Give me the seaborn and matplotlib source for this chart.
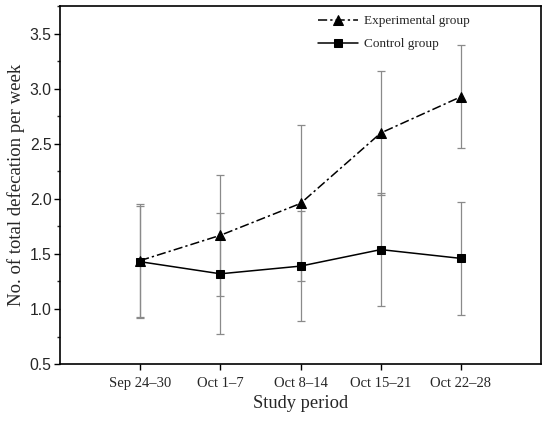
import numpy as np
import pandas as pd
import matplotlib
matplotlib.use("Agg")
import matplotlib.pyplot as plt
from matplotlib.ticker import MultipleLocator, FormatStrFormatter
import seaborn as sns

# data
periods = ["Sep 24\u201330", "Oct 1\u20137", "Oct 8\u201314", "Oct 15\u201321", "Oct 22\u201328"]
exp_mean = [1.44, 1.67, 1.96, 2.60, 2.93]
exp_sd = [0.51, 0.55, 0.71, 0.56, 0.47]
ctrl_mean = [1.43, 1.32, 1.39, 1.54, 1.46]
ctrl_sd = [0.51, 0.55, 0.50, 0.51, 0.51]

pos = np.arange(len(periods))
df = pd.DataFrame({
    "periodo": np.concatenate([pos, pos]),
    "valor": exp_mean + ctrl_mean,
    "grupo": ["Experimental group"] * 5 + ["Control group"] * 5,
})

sns.set_style("ticks")
plt.rcParams["font.family"] = ["Liberation Serif", "DejaVu Serif"]

fig = plt.figure(figsize=(5.5, 4.24), dpi=100)
ax = fig.add_axes([0.109, 0.1415, 0.875, 0.8445])

# barras de erro cinzas
ax.errorbar(pos, exp_mean, yerr=exp_sd, fmt="none", ecolor="#8a8a8a",
            elinewidth=0.9, capsize=3, capthick=0.9, zorder=1)
ax.errorbar(pos, ctrl_mean, yerr=ctrl_sd, fmt="none", ecolor="#8a8a8a",
            elinewidth=0.9, capsize=3, capthick=0.9, zorder=1)

sns.lineplot(data=df, x="periodo", y="valor", hue="grupo", style="grupo",
             palette={"Experimental group": "black", "Control group": "black"},
             dashes={"Experimental group": (6, 2, 1.5, 2), "Control group": ""},
             markers={"Experimental group": "^", "Control group": "s"},
             markersize=6, markeredgecolor="black", linewidth=1.1,
             ax=ax, zorder=3, legend=True)

# triangulos um pouco maiores que os quadrados
for ln in ax.lines:
    if ln.get_marker() == "^":
        ln.set_markersize(7.2)

ax.set_xlim(-1, 5)
ax.set_ylim(0.5, 3.755)
ax.set_xticks(pos)
ax.set_xticklabels(periods, fontsize=10.5)
ax.yaxis.set_major_locator(MultipleLocator(0.5))
ax.yaxis.set_minor_locator(MultipleLocator(0.25))
ax.yaxis.set_major_formatter(FormatStrFormatter("%.1f"))
for lab in ax.get_yticklabels():
    lab.set_fontfamily("Liberation Sans")
    lab.set_fontsize(11.3)
ax.tick_params(axis="both", which="major", direction="out", length=4, width=1, color="black")
ax.tick_params(axis="y", which="minor", direction="out", length=2.5, width=1)
ax.tick_params(axis="y", pad=2)
ax.tick_params(axis="x", pad=5)

for s in ax.spines.values():
    s.set_visible(True)
    s.set_linewidth(1.2)
    s.set_color("black")

ax.set_xlabel("Study period", fontsize=13.3, labelpad=4)
ax.set_ylabel("No. of total defecation per week", fontsize=13.5, labelpad=3)

leg = ax.legend(loc="upper right", bbox_to_anchor=(0.87, 1.0), frameon=False,
                fontsize=9.5, handlelength=3.0, handletextpad=0.45, labelspacing=0.8,
                borderaxespad=0.3)
for h in leg.legend_handles:
    h.set_markersize(6 if h.get_marker() == "s" else 7)

fig.savefig("out.png", dpi=100)
